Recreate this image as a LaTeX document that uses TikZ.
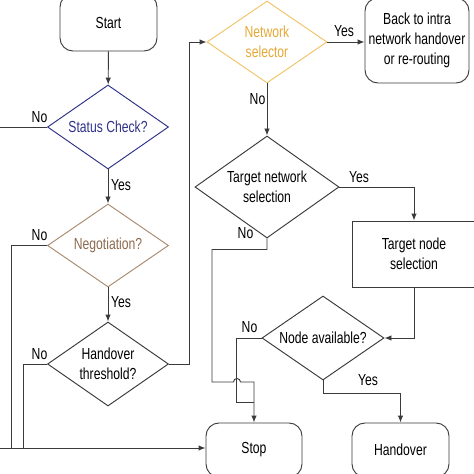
\documentclass[tikz,border=0pt]{standalone}
\usepackage{fontspec}
\setmainfont{Liberation Sans}[FakeStretch=0.76]
\usetikzlibrary{shapes.geometric,arrows.meta}
\definecolor{lineC}{HTML}{3A3A3A}
\definecolor{blueC}{HTML}{2E3188}
\definecolor{brownC}{HTML}{8C6A4E}
\definecolor{brownL}{HTML}{A88B70}
\definecolor{orangeC}{HTML}{E6A937}
\definecolor{orangeL}{HTML}{F0C466}

\begin{document}
\begin{tikzpicture}[x=1pt,y=-1pt,line width=0.95pt,draw=lineC,
        font=\fontsize{16}{20}\selectfont]
                \tikzstyle{arr}=[-{Latex[length=7pt,width=5.5pt]}]
                \tikzstyle{dia}=[diamond,draw=lineC,aspect=1.45,inner sep=0pt,align=center]
                \tikzstyle{term}=[rectangle,draw=lineC,rounded corners=13pt,align=center,inner sep=0pt]
                \tikzstyle{proc}=[rectangle,draw=lineC,align=center,inner sep=0pt]
                \tikzstyle{lab}=[inner sep=0pt,text height=1.55ex,text depth=0pt]
                \clip (0,0) rectangle (474,474);

                % terminals and boxes
                \node[term,minimum width=97,minimum height=57] (start) at (108.5,22.5) {Start};
                \node[term,minimum width=104,minimum height=85] (back) at (417,40.5) {Back to intra\\network handover\\or re-routing};
                \node[proc,minimum width=124,minimum height=66] (tnode) at (414,254) {Target node\\selection};
                \node[term,minimum width=96,minimum height=54] (stop) at (254,450) {Stop};
                \node[term,minimum width=97,minimum height=54] (hand) at (400.5,450) {Handover};

                % decisions
                \node[dia,draw=blueC,text=blueC,minimum width=121,minimum height=84] (status) at (108,127) {Status Check?};
                \node[dia,draw=brownL,text=brownC,minimum width=121,minimum height=83] (nego) at (108,245.5) {Negotiation?};
                \node[dia,minimum width=121,minimum height=84] (thresh) at (108,364) {Handover\\threshold?};
                \node[dia,draw=orangeL,text=orangeC,minimum width=120,minimum height=82] (netsel) at (267,42) {Network\\selector};
                \node[dia,minimum width=144,minimum height=102] (tnet) at (267,187) {Target network\\selection};
                \node[dia,minimum width=122,minimum height=84] (navail) at (323,338) {Node available?};

                % free ends on the left
                \coordinate (offA) at (-5,127);
                \coordinate (offB) at (-5,448);
                \coordinate (busA) at (11,448);
                \coordinate (busB) at (23,448);
                \coordinate (joinS) at (254,402);

                \foreach \from/\to in {start/status, status/nego, nego/thresh, netsel/tnet}
                        \draw[arr] (\from) -- (\to);

                \draw (status.west) -- (offA);
                \draw (nego.west) -| (busA);
                \draw (thresh.west) -| (busB);
                \draw[arr] (offB) -- (offB -| stop.west);

                \draw[arr] (thresh.east) -- ++(20,0) |- (netsel.west);
                \draw[arr] (netsel.east) -- (netsel.east -| back.west);
                \draw[arr] (tnet.east) -| (tnode.north);
                \draw[arr] (tnode.south) |- (navail.east);
                \draw[arr] (navail.south) -- ++(0,13) -| (hand.north);

                \draw[arr] (tnet.south) -- ++(0,11) -| (212,382) -- (233.5,382)
                        arc[start angle=180,end angle=360,radius=3.5] -| (stop.north);
                \draw (navail.west) -- ++(-25,0) |- (joinS);

                % branch labels
                \foreach \name/\txt/\x/\y in {l-st/No/39.5/118.5, l-sy/Yes/121/186,
                                l-nn/No/39.5/236, l-ny/Yes/121/303, l-hn/No/39.5/355.5,
                                l-ey/Yes/344/32, l-en/No/257.5/100.5, l-ty/Yes/359/178,
                                l-tn/No/245.5/234.5, l-an/No/249.5/328.5, l-ay/Yes/368/381.5}
                        \node[lab] (\name) at (\x,\y) {\txt};
\end{tikzpicture}
\end{document}
